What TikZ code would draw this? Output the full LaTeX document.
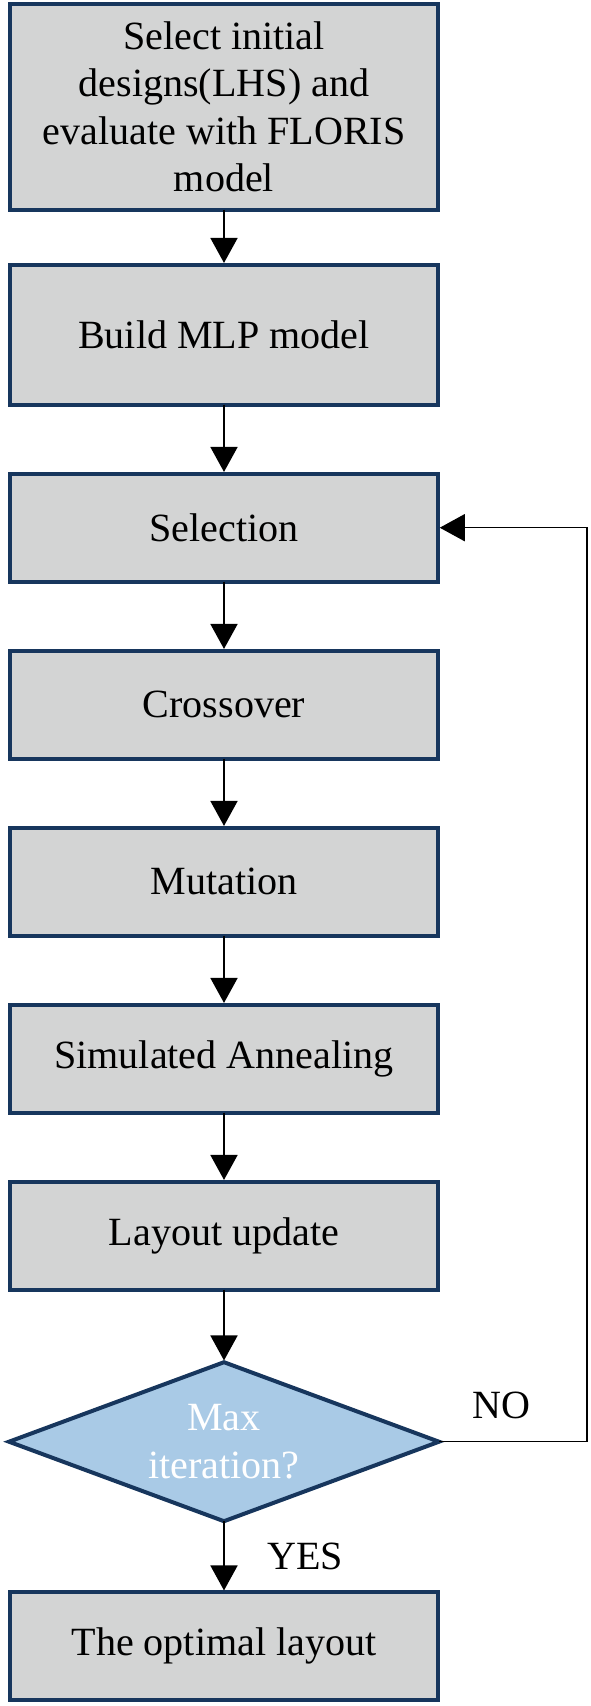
\documentclass[tikz,border=0pt]{standalone}
\usepackage{fontspec}
\setmainfont{Liberation Serif}
\usetikzlibrary{shapes.geometric,positioning,arrows.meta}
\definecolor{boxgray}{HTML}{D3D4D4}
\definecolor{boxline}{HTML}{17365D}
\definecolor{decblue}{HTML}{A9CAE6}

\begin{document}
\begin{tikzpicture}[node distance=1.38cm,>={Triangle[length=0.5cm,width=0.54cm]},shorten >=1pt,
    font=\fontsize{22.8}{27}\selectfont,
    stage/.style={draw=boxline,line width=0.08cm,fill=boxgray,minimum width=8.56cm,minimum height=2.16cm,inner sep=0pt,outer sep=0pt,align=center},
    check/.style={diamond,draw=boxline,line width=0.08cm,fill=decblue,minimum width=8.6cm,minimum height=3.18cm,aspect=2.7,inner sep=0pt,outer sep=0pt,align=center,text=white}]
    \useasboundingbox (-4.48,2.134) rectangle (7.34,-31.986);
    \node[stage,minimum height=4.12cm] (init) {Select initial\\designs(LHS) and\\evaluate with FLORIS\\model};
    \node[stage,minimum height=2.8cm,below=1.1cm of init] (mlp) {Build MLP model};
    \node[stage,below=of mlp] (sel) {Selection};
    \node[stage,below=of sel] (cross) {Crossover};
    \node[stage,below=of cross] (mut) {Mutation};
    \node[stage,below=of mut] (sa) {Simulated Annealing};
    \node[stage,below=of sa] (upd) {Layout update};
    \node[check,below=1.45cm of upd] (maxit) {Max\\iteration?};
    \node[stage,below=1.42cm of maxit] (opt) {The optimal layout};
    \coordinate (turn) at (7.26,0);

    \draw[->,line width=1pt] (init) -- (mlp);
    \draw[->,line width=1pt] (mlp) -- (sel);
    \draw[->,line width=1pt] (sel) -- (cross);
    \draw[->,line width=1pt] (cross) -- (mut);
    \draw[->,line width=1pt] (mut) -- (sa);
    \draw[->,line width=1pt] (sa) -- (upd);
    \draw[->,line width=1pt] (upd) -- (maxit);
    \draw[->,line width=1pt] (maxit) -- node[right=0.73cm] {YES} (opt);
    \draw[->,line width=0.8pt] (maxit.east) -- node[above=0.33cm,pos=0.42] {NO} (maxit.east -| turn) |- (sel.east);
\end{tikzpicture}
\end{document}
